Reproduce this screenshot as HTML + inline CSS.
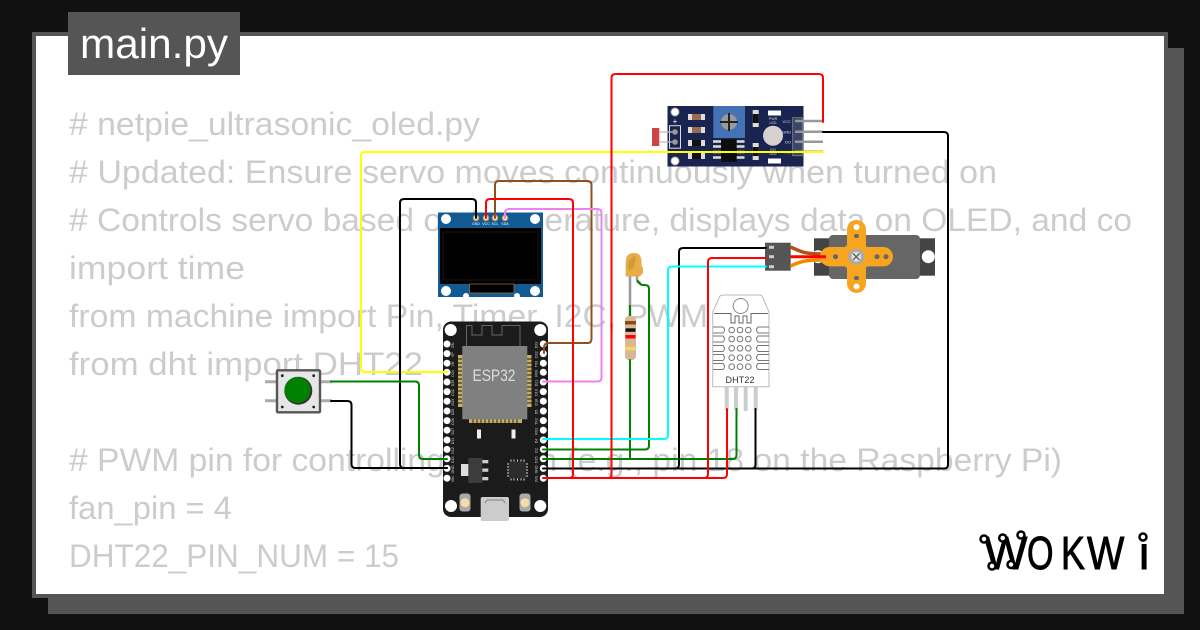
<!DOCTYPE html>
<html><head><meta charset="utf-8"><title>main.py</title>
<style>html,body{margin:0;padding:0;background:#111}svg{display:block}text{font-family:"Liberation Sans",sans-serif}</style></head>
<body>
<svg width="1200" height="630" viewBox="0 0 1200 630" xmlns="http://www.w3.org/2000/svg">
<rect width="1200" height="630" fill="#111"/>
<rect x="48" y="48" width="1136" height="566" fill="#555"/>
<rect x="34" y="34" width="1132" height="562" fill="#fff" stroke="#555" stroke-width="4"/>
<g fill="#ccc" font-size="32">
<text x="69" y="135" textLength="411" lengthAdjust="spacingAndGlyphs"># netpie_ultrasonic_oled.py</text>
<text x="69" y="183" textLength="928" lengthAdjust="spacingAndGlyphs"># Updated: Ensure servo moves continuously when turned on</text>
<text x="69" y="231" textLength="1063" lengthAdjust="spacingAndGlyphs"># Controls servo based on temperature, displays data on OLED, and co</text>
<text x="69" y="279" textLength="176" lengthAdjust="spacingAndGlyphs">import time</text>
<text x="69" y="327" textLength="639" lengthAdjust="spacingAndGlyphs">from machine import Pin, Timer, I2C, PWM</text>
<text x="69" y="375" textLength="354" lengthAdjust="spacingAndGlyphs">from dht import DHT22</text>
<text x="69" y="471" textLength="993" lengthAdjust="spacingAndGlyphs"># PWM pin for controlling the fan (e.g., pin 18 on the Raspberry Pi)</text>
<text x="69" y="519" textLength="163" lengthAdjust="spacingAndGlyphs">fan_pin = 4</text>
<text x="69" y="567" textLength="330" lengthAdjust="spacingAndGlyphs">DHT22_PIN_NUM = 15</text>
</g>
<rect x="68" y="12" width="172" height="63" fill="#555"/>
<text x="80" y="58" font-size="42" fill="#fff" textLength="148" lengthAdjust="spacingAndGlyphs">main.py</text>

<!-- Wokwi logo -->
<g fill="#000" stroke="#000" stroke-width=".9" font-size="46">
<text transform="translate(984,569)">W</text>
<text transform="translate(1027,569) scale(.74,1)">O</text>
<text transform="translate(1061,569) scale(.78,1)">K</text>
<text transform="translate(1087,569) scale(.86,1)">W</text>
<text transform="translate(1139,569)">i</text>
</g>
<g fill="#fff" stroke="#000" stroke-width="2.5">
<circle cx="984" cy="539" r="3.5"/><circle cx="1002.7" cy="538" r="3.5"/><circle cx="1021" cy="535" r="3.5"/>
<circle cx="992" cy="566" r="3.5"/><circle cx="1011" cy="564.5" r="3.5"/><circle cx="1143" cy="537" r="3.5"/>
</g>

<!-- OLED -->
<rect x="438" y="212.5" width="105" height="84.5" fill="#115a94"/>
<rect x="440" y="228" width="101" height="56" fill="#000"/>
<rect x="443" y="232" width="95" height="48" fill="none" stroke="#161616" stroke-width="1"/>
<rect x="469.5" y="284" width="44.5" height="9" fill="#000" stroke="#a87838" stroke-width=".7"/>
<g fill="#fff"><circle cx="446" cy="219" r="5"/><circle cx="535" cy="219" r="5"/><circle cx="446" cy="291" r="5"/><circle cx="535" cy="291" r="5"/>
<circle cx="466" cy="296" r="3"/><circle cx="517" cy="296" r="3"/></g>
<g fill="#f4ead8" stroke="#c79a50" stroke-width="1.2"><circle cx="476" cy="218" r="2.7"/><circle cx="486" cy="218" r="2.7"/><circle cx="495" cy="218" r="2.7"/><circle cx="505" cy="218" r="2.7"/></g>
<g fill="#fff" font-size="3.6" text-anchor="middle"><text x="476" y="225">GND</text><text x="486" y="225">VCC</text><text x="495" y="225">SCL</text><text x="505" y="225">SDA</text></g>

<!-- ESP32 -->
<rect x="443" y="321.5" width="105" height="195.5" rx="8" fill="#1b1b1b"/>
<path d="M466.5 346V325.5H472V335H482V325.5H492V335H502V325.5H520V346" fill="none" stroke="#666" stroke-width="1"/>
<g fill="#fff"><circle cx="450.7" cy="330" r="6"/><circle cx="540.3" cy="330" r="6"/><circle cx="451" cy="506" r="6"/><circle cx="540.3" cy="506" r="6"/></g>
<g fill="#c8b060">
<rect x="458" y="355" width="4.5" height="52"/><rect x="527" y="355" width="4.5" height="52"/><rect x="469" y="419" width="53" height="4"/>
</g>
<g stroke="#1b1b1b" stroke-width=".9">
<path d="M458 359H462M458 363H462M458 367H462M458 371H462M458 375H462M458 379H462M458 383H462M458 387H462M458 391H462M458 395H462M458 399H462M458 403H462M527 359H532M527 363H532M527 367H532M527 371H532M527 375H532M527 379H532M527 383H532M527 387H532M527 391H532M527 395H532M527 399H532M527 403H532M473 419V423M477 419V423M481 419V423M485 419V423M489 419V423M493 419V423M497 419V423M501 419V423M505 419V423M509 419V423M513 419V423M517 419V423"/>
</g>
<rect x="462.3" y="346" width="65" height="73.3" fill="#808080"/>
<text x="472.5" y="381" font-size="17" fill="#ddd" textLength="43" lengthAdjust="spacingAndGlyphs">ESP32</text>
<g fill="#fff">
<circle cx="447" cy="344" r="3.5"/><circle cx="447" cy="353.6" r="3.5"/><circle cx="447" cy="363.2" r="3.5"/><circle cx="447" cy="372.3" r="3.5"/><circle cx="447" cy="382" r="3.5"/><circle cx="447" cy="391.6" r="3.5"/><circle cx="447" cy="401.2" r="3.5"/><circle cx="447" cy="411" r="3.5"/><circle cx="447" cy="420.6" r="3.5"/><circle cx="447" cy="430.2" r="3.5"/><circle cx="447" cy="440" r="3.5"/><circle cx="447" cy="449.4" r="3.5"/><circle cx="447" cy="458.8" r="3.5"/><circle cx="447" cy="468.4" r="3.5"/><circle cx="447" cy="478.2" r="3.5"/>
<circle cx="543.3" cy="344" r="3.5"/><circle cx="543.3" cy="353.6" r="3.5"/><circle cx="543.3" cy="363.2" r="3.5"/><circle cx="543.3" cy="372.3" r="3.5"/><circle cx="543.3" cy="382" r="3.5"/><circle cx="543.3" cy="391.6" r="3.5"/><circle cx="543.3" cy="401.2" r="3.5"/><circle cx="543.3" cy="411" r="3.5"/><circle cx="543.3" cy="420.6" r="3.5"/><circle cx="543.3" cy="430.2" r="3.5"/><circle cx="543.3" cy="440" r="3.5"/><circle cx="543.3" cy="449.4" r="3.5"/><circle cx="543.3" cy="458.8" r="3.5"/><circle cx="543.3" cy="468.4" r="3.5"/><circle cx="543.3" cy="478.2" r="3.5"/>
</g>
<g fill="#ddd" font-size="3.6" text-anchor="middle">
<text transform="translate(454,345) rotate(-90)">EN</text><text transform="translate(454,354.6) rotate(-90)">VP</text><text transform="translate(454,364) rotate(-90)">VN</text><text transform="translate(454,373.3) rotate(-90)">D34</text><text transform="translate(454,383) rotate(-90)">D35</text><text transform="translate(454,392.6) rotate(-90)">D32</text><text transform="translate(454,402.2) rotate(-90)">D33</text><text transform="translate(454,412) rotate(-90)">D25</text><text transform="translate(454,421.6) rotate(-90)">D26</text><text transform="translate(454,431.2) rotate(-90)">D27</text><text transform="translate(454,441) rotate(-90)">D14</text><text transform="translate(454,450.4) rotate(-90)">D12</text><text transform="translate(454,459.8) rotate(-90)">D13</text><text transform="translate(454,469.4) rotate(-90)">GND</text><text transform="translate(454,479.2) rotate(-90)">VIN</text>
<text transform="translate(537.5,345) rotate(-90)">D23</text><text transform="translate(537.5,354.6) rotate(-90)">D22</text><text transform="translate(537.5,364) rotate(-90)">TX0</text><text transform="translate(537.5,373.3) rotate(-90)">RX0</text><text transform="translate(537.5,383) rotate(-90)">D21</text><text transform="translate(537.5,392.6) rotate(-90)">D19</text><text transform="translate(537.5,402.2) rotate(-90)">D18</text><text transform="translate(537.5,412) rotate(-90)">D5</text><text transform="translate(537.5,421.6) rotate(-90)">TX2</text><text transform="translate(537.5,431.2) rotate(-90)">RX2</text><text transform="translate(537.5,441) rotate(-90)">D4</text><text transform="translate(537.5,450.4) rotate(-90)">D2</text><text transform="translate(537.5,459.8) rotate(-90)">D15</text><text transform="translate(537.5,469.4) rotate(-90)">GND</text><text transform="translate(537.5,479.2) rotate(-90)">3V3</text>
</g>
<g fill="#eee"><rect x="477" y="429.5" width="4" height="9"/><rect x="511.5" y="429.5" width="4" height="9"/></g>
<rect x="461" y="464" width="8" height="12" fill="#ddd"/>
<rect x="468.3" y="458" width="14" height="25" fill="#3c3c3c"/>
<g fill="#ccc"><rect x="482.3" y="460" width="6" height="3.3"/><rect x="482.3" y="468.5" width="6" height="3.3"/><rect x="482.3" y="477" width="6" height="3.3"/></g>
<rect x="509" y="461.5" width="17" height="17" fill="#2c2c2c"/>
<path d="M511 459.5V461.5M514 459.5V461.5M517.5 459.5V461.5M521 459.5V461.5M524 459.5V461.5M511 478.5V480.5M514 478.5V480.5M517.5 478.5V480.5M521 478.5V480.5M524 478.5V480.5M507 464H509M507 467H509M507 470H509M507 473H509M507 476H509M526 464H528M526 467H528M526 470H528M526 473H528M526 476H528" stroke="#ddd" stroke-width="1"/>
<g><rect x="459.5" y="493.5" width="11" height="18" rx="3" fill="#aaa"/><circle cx="465" cy="502.7" r="4.5" fill="#f5dca8"/><rect x="519.5" y="493.5" width="11" height="18" rx="3" fill="#aaa"/><circle cx="525" cy="502.7" r="4.5" fill="#f5dca8"/></g>
<rect x="480.7" y="497" width="28.3" height="24" rx="2" fill="#ccc"/>
<path d="M485 503Q487 499 490 500H500Q503 499 505 503" fill="none" stroke="#999" stroke-width="1.5"/>

<!-- LDR module -->
<rect x="667.5" y="106" width="136" height="60.5" fill="#1a2451"/>
<rect x="713.3" y="106" width="31.7" height="32" fill="#4472b4"/>
<circle cx="729" cy="122" r="8" fill="#9a9a9a"/><path d="M720 122H738M729 113V131" stroke="#222" stroke-width="2"/>
<g fill="#fff"><circle cx="675" cy="112" r="4" stroke="#aaa"/><circle cx="675" cy="161" r="4" stroke="#aaa"/></g>
<rect x="669.5" y="125.7" width="11" height="22.5" fill="none" stroke="#ddd" stroke-width="1"/>
<rect x="652" y="128" width="7.3" height="18" fill="#cc4444"/>
<path d="M659 132H675M659 142H675" stroke="#bbb" stroke-width="1.2"/>
<circle cx="675" cy="132" r="2.8" fill="#999"/><circle cx="675" cy="142" r="2.8" fill="#999"/>
<text x="675" y="124" font-size="8" fill="#fff" text-anchor="middle">+</text>
<g><rect x="688" y="114" width="17" height="6" fill="#ddd"/><rect x="692" y="114" width="9" height="6" fill="#9a6b50"/>
<rect x="688" y="127" width="17" height="6" fill="#ddd"/><rect x="692" y="127" width="9" height="6" fill="#9a6b50"/>
<rect x="688" y="140" width="17" height="6" fill="#ddd"/><rect x="692" y="140" width="9" height="6" fill="#111"/>
<rect x="688" y="153" width="17" height="6" fill="#ddd"/><rect x="692" y="153" width="9" height="6" fill="#111"/></g>
<path d="M713 141.5H744.5M713 146.5H744.5M713 152H744.5M713 157.5H744.5" stroke="#ddd" stroke-width="2.4"/>
<rect x="721" y="139.3" width="15.7" height="22.4" fill="#0d0d0d"/>
<rect x="752.7" y="110" width="6" height="17" fill="#ddd"/><rect x="752.7" y="114" width="6" height="9" fill="#111"/>
<rect x="752.7" y="143" width="6" height="17" fill="#ddd"/><rect x="752.7" y="147" width="6" height="9" fill="#111"/>
<rect x="768" y="110.5" width="13" height="5" fill="#fff"/><rect x="768" y="158.5" width="13" height="5" fill="#fff"/>
<circle cx="773" cy="135.7" r="10" fill="#d8d0d0"/>
<g fill="#ddd" font-size="3.6" text-anchor="middle"><text x="773" y="120">PWR</text><text x="773" y="124">LED</text><text x="773" y="151">DO</text><text x="773" y="155">LED</text></g>
<g fill="#ddd" font-size="4" text-anchor="end"><text x="791" y="123">VCC</text><text x="791" y="133.5">GND</text><text x="791" y="143.5">DO</text><text x="791" y="153.5">AO</text></g>
<rect x="792.7" y="117.7" width="9.6" height="38" fill="#3b4668" stroke="#888" stroke-width=".8"/>
<path d="M795 121H823M795 131.7H823M795 141.7H823M795 151.7H823" stroke="#999" stroke-width="2.5"/>

<!-- Servo -->
<rect x="814" y="238.3" width="121" height="37.4" fill="#444"/>
<rect x="829" y="235" width="91" height="44" rx="4" fill="#666"/>
<circle cx="928.3" cy="256.7" r="6.5" fill="#fff"/><circle cx="818" cy="256.7" r="6.5" fill="#fff"/>
<rect x="765" y="242.7" width="25.7" height="28" fill="#555"/>
<g fill="#ccc"><rect x="769" y="245.8" width="5" height="3"/><rect x="769" y="255.2" width="5" height="3"/><rect x="769" y="265.2" width="5" height="3"/></g>
<circle cx="856" cy="256.7" r="15" fill="#999"/>
<path d="M790.5 247C800 251 803 254 822 254" fill="none" stroke="#b5500f" stroke-width="3.5"/>
<path d="M790.5 266C800 262 803 260 822 260" fill="none" stroke="#f28a00" stroke-width="3.5"/>
<rect x="820" y="247" width="73" height="19.4" rx="9.7" fill="#f7a51f"/>
<rect x="847" y="220" width="19" height="73" rx="9.5" fill="#f7a51f"/>
<path d="M790.5 256.7H826" stroke="#f00" stroke-width="3"/>
<g fill="#fff"><circle cx="856.5" cy="227" r="3"/><circle cx="856.5" cy="286.5" r="3"/></g>
<g fill="#666"><rect x="854" y="234" width="5" height="4" rx="2"/><rect x="854" y="276" width="5" height="4" rx="2"/><circle cx="835.5" cy="256.7" r="2.5"/><circle cx="877" cy="256.7" r="2.5"/><circle cx="886" cy="256.7" r="2.5"/></g>
<circle cx="856.3" cy="256.7" r="8" fill="#aaa"/><circle cx="856.3" cy="256.7" r="5" fill="#ddd"/>
<path d="M853 253.5L859.5 260M859.5 253.5L853 260" stroke="#555" stroke-width="1.2"/>

<!-- DHT22 -->
<path d="M726.7 386V410M736 386V410M745.7 386V411M755.7 386V410" stroke="#ccc" stroke-width="4" fill="none"/>
<path d="M712.7 312L720 296Q721 295 723 295H759Q761 295 762 296L769 312V386.7H712.7Z" fill="#fff" stroke="#bbb" stroke-width="1"/>
<circle cx="740.7" cy="306" r="7.5" fill="#fff" stroke="#888" stroke-width="1"/>
<path d="M714 313.5H731V323H735V316H739V323H743V316H747V323H751V313.5H768" fill="none" stroke="#666" stroke-width="1"/>
<g fill="none" stroke="#777" stroke-width="1">
<path d="M713 327H723Q726 330 723 333H713M713 336H723Q726 339 723 342H713M713 345.5H723Q726 348.5 723 351.5H713M713 354.5H723Q726 357.5 723 360.5H713M713 363.5H723Q726 366.5 723 369.5H713"/>
<path d="M769 327H758Q755 330 758 333H769M769 336H758Q755 339 758 342H769M769 345.5H758Q755 348.5 758 351.5H769M769 354.5H758Q755 357.5 758 360.5H769M769 363.5H758Q755 366.5 758 369.5H769"/>
<circle cx="731.7" cy="330" r="2.8"/><circle cx="740" cy="330" r="2.8"/><circle cx="748.3" cy="330" r="2.8"/>
<circle cx="731.7" cy="339" r="2.8"/><circle cx="740" cy="339" r="2.8"/><circle cx="748.3" cy="339" r="2.8"/>
<circle cx="731.7" cy="348.3" r="2.8"/><circle cx="740" cy="348.3" r="2.8"/><circle cx="748.3" cy="348.3" r="2.8"/>
<circle cx="731.7" cy="357.7" r="2.8"/><circle cx="740" cy="357.7" r="2.8"/><circle cx="748.3" cy="357.7" r="2.8"/>
<circle cx="731.7" cy="366.7" r="2.8"/><circle cx="740" cy="366.7" r="2.8"/><circle cx="748.3" cy="366.7" r="2.8"/>
</g>
<text x="740" y="383" font-size="9" fill="#333" text-anchor="middle" textLength="29">DHT22</text>

<!-- LED and resistor -->
<path d="M630 276V305" stroke="#999" stroke-width="2.5"/>
<path d="M637 276V280Q637 283 641 283" fill="none" stroke="#999" stroke-width="2.5"/>
<path d="M625.7 276.5V262Q625.7 253 634 253Q641.5 253 641.5 262V266L643 268V273L640 276.5Z" fill="#e8ad45"/>
<path d="M628 266Q629 257 636 256L634 268L629 271Z" fill="#d39a35"/>
<path d="M630 305V317" stroke="#008000" stroke-width="2"/>
<rect x="625" y="316" width="11" height="44" rx="4" fill="#d8b896"/>
<rect x="625" y="321" width="11" height="3.5" fill="#8b4a14"/><rect x="625.5" y="328.3" width="10" height="3.5" fill="#111"/><rect x="625.5" y="335" width="10" height="3.5" fill="#f00"/><rect x="625" y="346.7" width="11" height="3.5" fill="#f3d764"/>

<!-- Pushbutton -->
<path d="M265 381.7H276M265 400.7H276M321 381.7H332M321 400.7H332" stroke="#aaa" stroke-width="3"/>
<rect x="277" y="370.3" width="43" height="42" rx="1" fill="#e6e6e6" stroke="#555" stroke-width="2.4"/>
<circle cx="298.3" cy="390.7" r="14" fill="#333"/><circle cx="297.5" cy="390" r="13" fill="#008000"/>
<g fill="#222"><circle cx="282.3" cy="375.7" r="1.4"/><circle cx="313.7" cy="375.7" r="1.4"/><circle cx="282.3" cy="407" r="1.4"/><circle cx="313.7" cy="407" r="1.4"/></g>

<!-- Wires -->
<g fill="none" stroke-width="2" stroke-linecap="round">
<path stroke="#ff0" d="M447 372H365Q361 372 361 368V156Q361 152 365 152H823"/>
<path stroke="#000" d="M476 218V203Q476 199 472 199H404Q400 199 400 203V464Q400 468 404 468H447"/>
<path stroke="#000" d="M331 401H347.5Q351.5 401 351.5 405V464Q351.5 468 355.5 468H447"/>
<path stroke="#008000" d="M331 381.5H415Q419 381.5 419 385.5V455Q419 459 423 459H447"/>
<path stroke="#8f4f1f" d="M495 218V185Q495 181 499 181H587.5Q591.5 181 591.5 185V339Q591.5 343 587.5 343H549Q544 343 544 348V353"/>
<path stroke="#f080f0" d="M505 218V213Q505 209 509 209H597.5Q601.5 209 601.5 213V377.5Q601.5 381.5 597.5 381.5H543"/>
<path stroke="#008000" d="M630 459V360"/>
<path stroke="#008000" d="M543 449.5H645Q649 449.5 649 445.5V289Q649 285 645 285H643Q640 285 638 281"/>
<path stroke="#008000" d="M543 459H732.5Q736.5 459 736.5 455V409"/>
<path stroke="#000" d="M543 468.5H944Q948 468.5 948 464.5V136Q948 132 944 132H823"/>
<path stroke="#000" d="M675 468.5Q679 468.5 679 464.5V252Q679 248 683 248H766"/>
<path stroke="#000" d="M751.5 468.5Q755.5 468.5 755.5 464.5V409"/>
<path stroke="#0ff" d="M543 439H664Q668 439 668 435V270.5Q668 266.5 672 266.5H766"/>
<path stroke="#f00" d="M486 218V203Q486 199 490 199H569Q573 199 573 203V474Q573 478 569 478"/>
<path stroke="#f00" d="M543 478H723Q727 478 727 474V409"/>
<path stroke="#f00" d="M608 478Q611.5 478 611.5 474V78Q611.5 74 615.5 74H819Q823 74 823 78V122"/>
<path stroke="#f00" d="M704 478Q708 478 708 474V262Q708 258 712 258H766"/>
</g>
</svg>
</body></html>
